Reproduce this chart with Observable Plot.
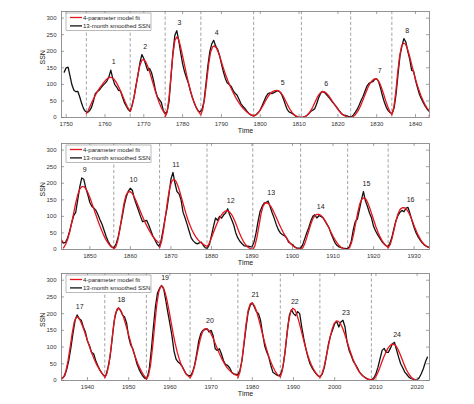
<!DOCTYPE html>
<html>
<head>
<meta charset="utf-8">
<script src="https://cdn.jsdelivr.net/npm/d3@7"></script>
<script src="https://cdn.jsdelivr.net/npm/@observablehq/plot@0.6"></script>
<style>
  body { margin: 0; background: #fff; }
  #chart { width: 474px; }
  #chart svg { display: block; }
</style>
</head>
<body>
<div id="chart"></div>
<script>
// 13-month smoothed sunspot number, half-year samples starting at 1749.5
const ssnStart = 1749.5;
const ssnStep = 0.5;
const ssnValues = [
  137,150,152,125,98,82,78,79,62,42,
  26,18,15,20,30,48,72,78,82,90,
  97,103,110,122,143,118,100,92,82,80,
  62,45,34,24,19,38,62,98,128,165,
  190,178,160,142,148,135,112,82,62,54,
  46,22,12,17,48,122,195,248,262,232,
  196,162,138,120,103,80,60,44,30,20,
  17,24,48,100,155,198,222,233,216,206,
  188,162,138,118,104,100,94,82,73,68,
  56,42,34,28,20,13,8,6,6,9,
  15,23,36,50,63,72,74,72,75,78,
  81,78,70,55,38,23,16,14,10,5,
  2,0,0,1,3,6,12,18,22,26,
  40,58,72,79,76,70,63,56,48,41,
  34,26,18,11,7,6,4,2,2,8,
  16,25,38,52,64,80,95,103,106,108,
  115,117,108,88,65,45,30,20,14,13,
  30,72,132,186,216,238,228,200,176,142,
  140,112,90,70,57,45,34,25,19,22,
  35,55,80,102,112,150,188,216,212,185,
  165,142,130,125,118,105,90,76,58,40,
  25,14,7,6,18,38,70,100,135,160,
  176,185,178,152,135,118,100,84,86,88,
  75,58,42,30,18,10,22,55,90,122,
  165,212,233,200,175,168,150,112,95,76,
  55,35,26,20,17,20,22,12,5,4,
  15,42,70,95,88,100,95,104,110,123,
  104,90,74,50,35,25,18,12,10,10,
  9,8,22,50,85,115,130,140,142,146,
  128,110,94,75,60,50,45,42,36,23,
  18,15,8,5,4,4,14,32,50,66,
  85,100,105,95,102,100,96,86,76,66,
  48,34,20,12,8,6,4,3,2,8,
  25,60,85,92,120,150,175,146,130,110,
  95,70,56,45,35,25,18,12,9,18,
  36,62,86,102,112,118,114,125,127,108,
  86,66,50,38,28,20,14,10,7,8,
  15,35,62,100,142,180,196,185,180,160,
  145,118,104,84,80,60,45,32,22,14,
  16,40,72,125,180,206,217,210,196,190,
  172,130,106,95,74,50,34,22,12,6,
  8,35,92,160,222,262,276,284,274,240,
  204,170,134,88,64,55,50,42,30,18,
  15,14,25,46,80,118,140,150,152,155,
  145,150,134,95,90,95,80,60,48,45,
  38,25,20,18,18,30,60,110,160,205,
  225,232,220,206,200,180,140,104,85,70,
  45,25,20,16,14,22,45,90,150,195,
  212,200,194,206,200,160,125,95,70,50,
  38,28,20,13,12,20,40,75,110,135,
  152,170,176,160,175,180,160,115,90,75,
  58,48,38,25,18,12,8,4,3,2.5,
  8,20,40,65,90,96,84,84,96,110,
  114,92,70,50,38,25,18,10,6,4,
  2,2,8,20,35,55,70
];

// Solar cycles: number, starting minimum, and maximum of the smoothed SSN
const cycleNumbers = [1,2,3,4,5,6,7,8,9,10,11,12,13,14,15,16,17,18,19,20,21,22,23,24];
const cycleStart = [1755.2,1766.5,1775.5,1784.7,1798.3,1810.6,1823.3,1833.9,1843.5,1855.9,1867.2,1878.9,
                    1890.2,1902.0,1913.6,1923.6,1933.8,1944.2,1954.3,1964.9,1976.5,1986.8,1996.4,2008.9];
const peakTime = [1761.5,1769.6,1778.4,1788.0,1805.0,1816.2,1830.0,1837.1,1848.0,1860.0,1870.5,1884.0,
                  1894.0,1906.2,1917.5,1928.4,1937.4,1947.5,1958.1,1969.0,1980.0,1989.6,2002.0,2014.4];
const peakSSN = [143,190,262,233,81,79,117,238,216,185,233,123,146,105,175,127,196,217,284,155,232,212,180,114];

// 4-parameter model fit of each cycle, half-year samples from the cycle's starting minimum
const fitValues = [
  [12,22,35,48,60,71,81,90,98,106,113,118,121,121,117,110,100,88,75,61,47,34,23],
  [18,35,62,95,130,158,173,175,168,155,138,118,98,78,60,44,30,19,10],
  [2,15,60,125,190,232,243,235,212,185,158,130,105,82,62,45,31,20,11],
  [8,25,60,110,160,197,213,216,210,197,180,160,142,125,110,96,83,71,60,50,41,33,26,20,15,11,8,5],
  [4,7,12,19,28,38,49,59,68,75,79,81,82,80,75,67,56,44,32,22,14,8,4,2,1],
  [0,1,3,7,13,22,33,46,59,69,76,78,77,73,66,58,49,40,31,23,16,10,6,3,1,0],
  [0,2,6,13,22,34,48,63,78,92,103,111,116,117,113,103,88,70,51,34,20,10],
  [8,30,75,135,185,215,225,222,208,188,165,142,120,100,82,66,52,40,30,22],
  [5,15,30,52,80,110,140,165,182,190,190,184,172,157,140,122,104,87,70,55,41,29,19,11,6,3],
  [1,8,28,60,100,138,163,174,175,170,160,147,132,117,102,88,75,63,52,42,34,27,21],
  [5,25,60,105,150,186,206,212,207,193,174,152,130,109,90,73,59,47,37,29,23,18,14,11],
  [8,18,32,48,64,79,92,103,111,116,117,114,107,96,82,66,50,36,24,15,8,4,1],
  [0,10,35,70,105,130,140,141,137,129,118,105,91,77,64,52,41,31,23,16,10,6,3,1],
  [0,5,17,35,56,76,92,102,106,106,103,97,88,77,65,52,40,29,20,12,7,3,1,0],
  [0,6,22,48,80,112,138,152,156,152,140,124,105,86,68,52,38,27,18,11,6],
  [5,15,35,62,90,110,122,126,126,122,113,100,85,69,54,41,30,21,14,9,6],
  [5,12,30,60,100,142,176,190,188,178,163,146,127,108,90,74,59,46,35,25,17,11],
  [8,20,48,95,150,195,214,216,207,191,171,149,127,105,85,67,51,37,25,15,7],
  [3,15,45,100,165,225,265,282,280,265,240,208,174,140,110,84,63,46,33,22,15,10],
  [8,18,38,66,97,125,145,154,155,151,142,129,114,99,84,70,58,47,38,31,25,20,17,15],
  [8,25,62,115,170,210,229,232,224,208,187,163,138,114,92,72,55,41,29,20,13],
  [10,30,72,125,175,205,216,212,198,177,153,128,104,82,63,48,35,25,17,11],
  [8,20,40,68,100,130,155,171,178,177,170,157,140,121,101,82,65,50,37,27,19,13,8,5,3,2],
  [0,3,10,22,37,54,70,84,96,104,109,108,103,92,78,62,46,32,21,12,6,3,1]
];
const fitStep = 0.5;

// Axis ticks
const yTicks = [0, 50, 100, 150, 200, 250, 300];
const xTicks1 = [1750, 1760, 1770, 1780, 1790, 1800, 1810, 1820, 1830, 1840];
const xTicks2 = [1850, 1860, 1870, 1880, 1890, 1900, 1910, 1920, 1930];
const xTicks3 = [1940, 1950, 1960, 1970, 1980, 1990, 2000, 2010, 2020];

// Tidy rows built from the arrays above
const ssn = ssnValues.map((v, i) => ({t: ssnStart + i * ssnStep, v}));
const fit = fitValues.flatMap((vals, c) =>
  vals.map((v, k) => ({cycle: cycleNumbers[c], t: cycleStart[c] + k * fitStep, v})));
const peaks = cycleNumbers.map((n, i) => ({label: String(n), t: peakTime[i], v: peakSSN[i]}));

const RED = "#e6141c";
const INK = "#222";
const AXIS = "#7a7a7a";
const FONT = "'Liberation Sans', Arial, Helvetica, sans-serif";
const W = 474, ML = 61, MR = 45;

const panels = [
  {domain: [1748.8, 1843.6], ticks: xTicks1, height: 137, top: 11, bottom: 20},
  {domain: [1843.0, 1933.8], ticks: xTicks2, height: 131, top: 6, bottom: 19},
  {domain: [1933.7, 2023.0], ticks: xTicks3, height: 136, top: 5, bottom: 24}
];

function drawPanel(p) {
  const [lo, hi] = p.domain;
  const areaW = W - ML - MR;
  const areaH = p.height - p.top - p.bottom;
  const near = d => d.t >= lo - 1 && d.t <= hi + 1;

  const svg = Plot.plot({
    width: W,
    height: p.height,
    marginLeft: ML,
    marginRight: MR,
    marginTop: p.top,
    marginBottom: p.bottom,
    x: {domain: p.domain, label: null},
    y: {domain: [0, 320], label: null},
    style: {fontFamily: FONT, fontSize: "6px", color: "#333", background: "#fff"},
    marks: [
      Plot.ruleX(cycleStart.filter(t => t > lo + 0.6 && t < hi - 0.6),
        {stroke: "#8c8c8c", strokeWidth: 0.8, strokeDasharray: "3.2,2.2"}),
      Plot.line(ssn.filter(near), {x: "t", y: "v", stroke: "#111", strokeWidth: 1.3, clip: true}),
      Plot.line(fit.filter(near), {x: "t", y: "v", z: "cycle", stroke: RED, strokeWidth: 1.3, clip: true}),
      Plot.text(peaks.filter(d => d.t > lo && d.t < hi),
        {x: "t", y: "v", text: "label", dx: 3, dy: -8, fontSize: 7, fill: INK}),
      Plot.frame({stroke: AXIS, strokeWidth: 0.8}),
      Plot.ruleX(p.ticks, {stroke: AXIS, strokeWidth: 0.7, insetTop: areaH - 3}),
      Plot.ruleX(p.ticks, {stroke: AXIS, strokeWidth: 0.7, insetBottom: areaH - 3}),
      Plot.ruleY(yTicks, {stroke: AXIS, strokeWidth: 0.7, insetRight: areaW - 3}),
      Plot.ruleY(yTicks, {stroke: AXIS, strokeWidth: 0.7, insetLeft: areaW - 3}),
      Plot.axisX(p.ticks, {tickSize: 0, tickPadding: 4, tickFormat: d => String(d), label: null, fontSize: 6}),
      Plot.axisY(yTicks, {tickSize: 0, tickPadding: 5, tickFormat: d => String(d), label: null, fontSize: 6}),
      Plot.text(["Time"], {text: d => d, frameAnchor: "bottom", dy: 15.5, fontSize: 7, fill: INK}),
      Plot.text(["SSN"], {text: d => d, frameAnchor: "left", dx: -19, rotate: -90, fontSize: 7, fill: INK})
    ]
  });

  // Legend box in the upper-left corner of the axes
  const g = d3.select(svg).append("g")
    .attr("font-family", FONT).attr("font-size", 6).attr("fill", INK).attr("text-anchor", "start");
  const bx = ML + 5, by = p.top + 2;
  g.append("rect").attr("x", bx).attr("y", by).attr("width", 85).attr("height", 17.5)
    .attr("fill", "#fff").attr("stroke", "#8c8c8c").attr("stroke-width", 0.6);
  const rows = [
    {label: "4-parameter model fit", color: RED},
    {label: "13-month smoothed SSN", color: "#111"}
  ];
  rows.forEach((r, i) => {
    const y = by + 4.5 + i * 8.4;
    g.append("line").attr("x1", bx + 4).attr("x2", bx + 16).attr("y1", y).attr("y2", y)
      .attr("stroke", r.color).attr("stroke-width", 1.3);
    g.append("text").attr("x", bx + 17).attr("y", y).attr("dy", "0.35em")
      .attr("text-anchor", "start").text(r.label);
  });
  return svg;
}

const chart = document.getElementById("chart");
panels.forEach(p => chart.appendChild(drawPanel(p)));
</script>
</body>
</html>
